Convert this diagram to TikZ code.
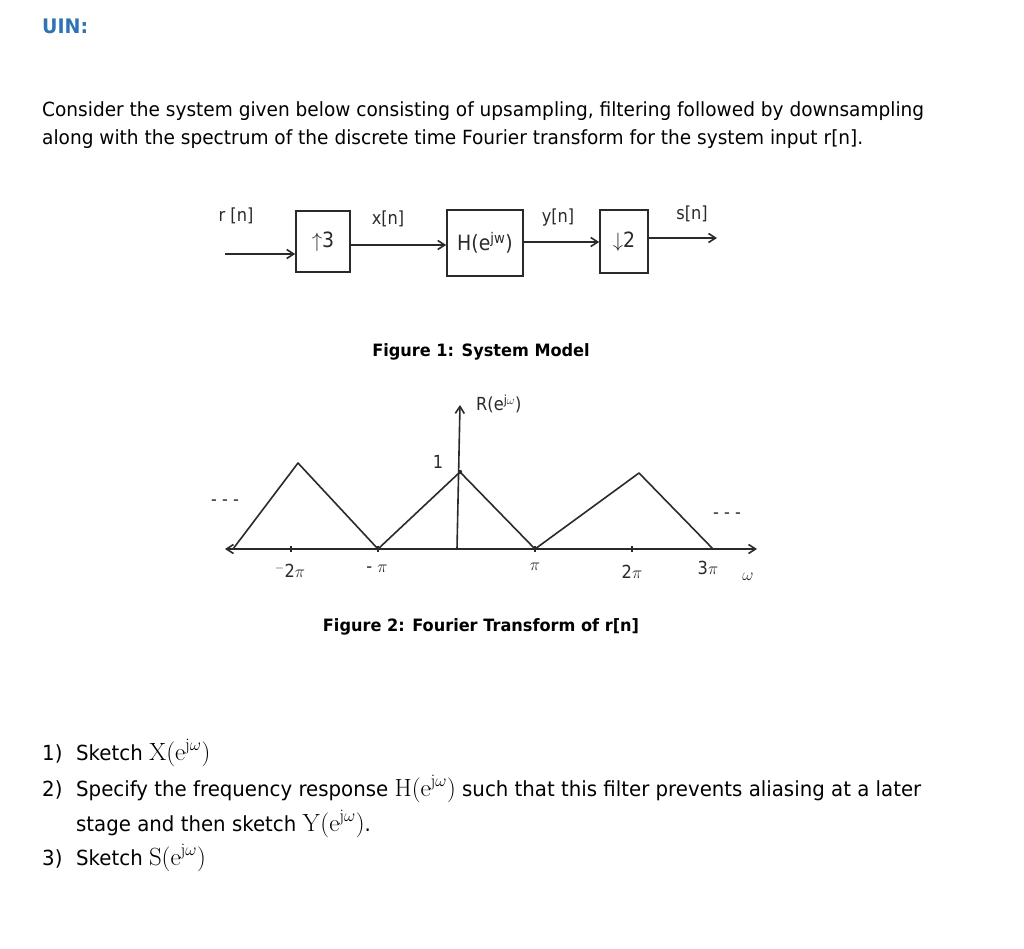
\documentclass[tikz,border=0pt]{standalone}
\usepackage[no-math]{fontspec}
\setmainfont{DejaVu Sans}[FakeStretch=0.95]
\newfontfamily\handfont{DejaVu Sans}[FakeStretch=0.9]
\usetikzlibrary{arrows.meta}
\definecolor{uinblue}{HTML}{2E74B5}
\definecolor{ink}{HTML}{2A2A2A}
\newcommand{\ejw}[1]{{\fontsize{23}{25}\selectfont$\mathrm{#1}\big(\mathrm{e}^{\mathrm{j}\omega}\big)$}}
\tikzset{
  txt/.style={anchor=base west, inner sep=0pt, font=\fontsize{19.5}{24}\selectfont},
  qtxt/.style={anchor=base west, inner sep=0pt, font=\fontsize{20.8}{25}\selectfont},
  figcap/.style={inner sep=0pt, font=\fontsize{17}{21}\selectfont\bfseries},
  hand/.style={inner sep=0pt, text=ink, font=\handfont\fontsize{18}{20}\selectfont},
  blk/.style={draw=ink, line width=1.6pt, inner sep=0pt, font=\handfont\fontsize{21}{24}\selectfont, text=ink},
  sig/.style={draw=ink, line width=1.6pt, -{Straight Barb[length=7pt,width=9pt]}},
  curve/.style={draw=ink, line width=1.6pt, line join=round},
}
\begin{document}
\begin{tikzpicture}[x=1pt,y=-1pt]
\useasboundingbox (0,0) rectangle (1024,949);
\fill[white] (0,0) rectangle (1024,949);

% header
\node[txt, font=\fontsize{20}{24}\selectfont\bfseries, text=uinblue] (uin) at (42,34) {UIN:};
\node[txt] (p1) at (42,117) {Consider the system given below consisting of upsampling, filtering followed by downsampling};
\node[txt] (p2) at (42,145) {along with the spectrum of the discrete time Fourier transform for the system input r[n].};

% block diagram
\coordinate (in) at (225,254);
\node[blk, minimum width=54pt, minimum height=61pt] (up) at (323,241.5) {$\uparrow$3};
\node[blk, minimum width=76pt, minimum height=66pt] (H) at (485,243) {H(e\textsuperscript{jw})};
\node[blk, minimum width=48pt, minimum height=63pt] (dn) at (624,241.5) {$\downarrow$2};
\coordinate (out) at (717,238);
\draw[sig] (in) -- (up.west |- in);
\draw[sig] (up.east |- 0,245) -- (H.west |- 0,245);
\draw[sig] (H.east |- 0,242) -- (dn.west |- 0,242);
\draw[sig] (dn.east |- out) -- (out);
\node[hand] (lr) at (236,216) {r [n]};
\node[hand] (lx) at (388,219) {x[n]};
\node[hand] (ly) at (558,218) {y[n]};
\node[hand] (ls) at (692,214) {s[n]};

\node[figcap] (fig1) at (481,352) {Figure 1: System Model};

% spectrum
\coordinate (xl) at (225,549);
\coordinate (xr) at (757,549);
\coordinate (o) at (457,549);
\coordinate (yt) at (460,405);
\draw[sig, {Straight Barb[length=7pt,width=9pt]}-{Straight Barb[length=7pt,width=9pt]}] (xl) -- (xr);
\draw[sig] (o) -- (yt);
\coordinate (a0) at (233,549);
\coordinate (a1) at (298,463);
\coordinate (a2) at (378,549);
\coordinate (a3) at (460,472);
\coordinate (a4) at (535,549);
\coordinate (a5) at (639,473);
\coordinate (a6) at (713,549);
\draw[curve] (a0) -- (a1) -- (a2) -- (a3) -- (a4) -- (a5) -- (a6);
\foreach \t in {291,378,535,632} \draw[curve] (\t,546) -- (\t,552);
\fill[ink] (a3) circle (2.2pt);

\node[hand] (lm2) at (290,571) {$^{-}$2$\pi$};
\node[hand] (lm1) at (377,569) {- $\pi$};
\node[hand] (lp1) at (535,567) {$\pi$};
\node[hand] (lp2) at (632,572) {2$\pi$};
\node[hand] (lp3) at (708,568) {3$\pi$};
\node[hand] (lw) at (748,577) {$\omega$};
\node[hand] (lone) at (438,462) {1};
\node[hand, anchor=west] (lR) at (476,404) {R(e\textsuperscript{j$\omega$})};
\node[hand] (dl) at (225,503) {- - -};
\node[hand] (dr) at (727,516) {- - -};

\node[figcap] (fig2) at (481,627) {Figure 2: Fourier Transform of r[n]};

% questions
\node[qtxt] (q1n) at (42,760) {1)};
\node[qtxt] (q1) at (76,760) {Sketch \ejw{X}};
\node[qtxt] (q2n) at (42,796) {2)};
\node[qtxt] (q2) at (76,796) {Specify the frequency response \ejw{H} such that this filter prevents aliasing at a later};
\node[qtxt] (q2b) at (76,831) {stage and then sketch \ejw{Y}.};
\node[qtxt] (q3n) at (42,865) {3)};
\node[qtxt] (q3) at (76,865) {Sketch \ejw{S}};
\end{tikzpicture}
\end{document}
